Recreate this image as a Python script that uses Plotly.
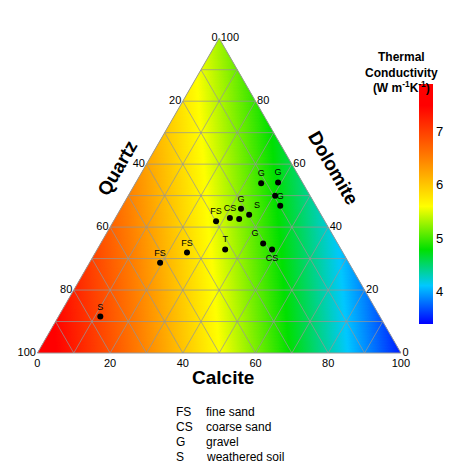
import numpy as np
import plotly.graph_objects as go

# sample compositions (fractions): dolomite, quartz, calcite
sample_labels = ["S", "FS", "FS", "T", "FS", "CS", "", "G", "S", "G", "CS", "G", "G", "", "G"]
dolomite = [0.116, 0.287, 0.319, 0.329, 0.419, 0.429, 0.426, 0.458, 0.439, 0.348, 0.329, 0.539, 0.542, 0.500, 0.468]
calcite = [0.115, 0.194, 0.252, 0.352, 0.282, 0.315, 0.342, 0.331, 0.363, 0.447, 0.481, 0.346, 0.391, 0.404, 0.434]
quartz = [1 - d - c for d, c in zip(dolomite, calcite)]
label_pos = ["top center", "top center", "top center", "top center", "top center", "top center",
             "top center", "top center", "top right", "top left", "bottom center", "top center",
             "top center", "top center", "top center"]

# end-member thermal conductivities (W m-1 K-1), linear mixing for background
k_quartz, k_dolomite, k_calcite = 7.7, 5.3, 3.5

colorscale = [[0.0, "#0000ff"], [0.16, "#00c8ff"], [0.31, "#00e000"], [0.49, "#ffff00"],
              [0.69, "#ff8000"], [0.91, "#ff0000"], [1.0, "#ff0000"]]

step = 0.005
ga, gb, gc = [], [], []
n = int(round(1 / step))
for i in range(n + 1):
    for j in range(n + 1 - i):
        ga.append(i * step)
        gb.append(j * step)
        gc.append(1 - i * step - j * step)
ga, gb, gc = np.array(ga), np.array(gb), np.array(gc)
kval = k_dolomite * ga + k_quartz * gb + k_calcite * gc

fig = go.Figure()
fig.add_trace(go.Scatterternary(
    a=ga, b=gb, c=gc, mode="markers", hoverinfo="skip",
    marker=dict(symbol="square", size=3.5, color=kval, colorscale=colorscale,
                cmin=3.4, cmax=7.9, line=dict(width=0),
                colorbar=dict(x=0.845, xanchor="left", y=0.30, yanchor="bottom", len=0.56,
                              lenmode="fraction", thickness=14, tickvals=[4, 5, 6, 7],
                              outlinewidth=0, ticks="",
                              tickfont=dict(family="Arial", size=13, color="black")))))

# grid lines every 10 %, drawn over the coloured background
grid = [v / 10 for v in range(1, 10)]
for v in grid:
    for key in ["a", "b", "c"]:
        others = [k for k in ["a", "b", "c"] if k != key]
        line = {key: [v, v], others[0]: [0, 1 - v], others[1]: [1 - v, 0]}
        fig.add_trace(go.Scatterternary(**line, mode="lines", hoverinfo="skip",
                                        line=dict(color="rgba(150,150,150,0.75)", width=1)))

fig.add_trace(go.Scatterternary(
    a=dolomite, b=quartz, c=calcite, mode="markers+text", text=sample_labels,
    textposition=label_pos, textfont=dict(family="Arial", size=9, color="black"),
    marker=dict(color="black", size=6)))

tick_vals = [v / 100 for v in range(0, 101, 20)]
axis_common = dict(tickvals=tick_vals, ticktext=[str(100 - round(t * 100)) for t in tick_vals],
                   showgrid=False, linecolor="#999", ticks="", layer="above traces",
                   tickfont=dict(family="Arial", size=11, color="black"), title=dict(text=""))
fig.update_layout(
    width=474, height=465, margin=dict(l=0, r=0, t=0, b=0), showlegend=False,
    paper_bgcolor="white", font=dict(family="Arial"),
    ternary=dict(sum=1, bgcolor="white",
                 domain=dict(x=[0.051, 0.84], y=[0.258, 0.935]),
                 aaxis=axis_common, baxis=axis_common, caxis=axis_common),
)

ann = [
    dict(x=82 / 474, y=1 - 160 / 465, text="<b>Quartz</b>", textangle=-60, font=dict(size=19)),
    dict(x=358 / 474, y=1 - 160 / 465, text="<b>Dolomite</b>", textangle=60, font=dict(size=19)),
    dict(x=215 / 474, y=1 - 382 / 465, text="<b>Calcite</b>", font=dict(size=19)),
    dict(x=432 / 474, y=1 - 40 / 465, text="<b>Thermal<br>Conductivity<br>(W m<sup>-1</sup>K<sup>-1</sup>)</b>",
         font=dict(size=12)),
]
legend_rows = [("FS", "fine sand"), ("CS", "coarse sand"), ("G", "gravel"), ("S", "weathered soil")]
for i, (code, desc) in enumerate(legend_rows):
    y = 1 - (413 + i * 15) / 465
    ann.append(dict(x=166 / 474, y=y, text=code, xanchor="left", font=dict(size=12)))
    ann.append(dict(x=196 / 474, y=y, text=desc, xanchor="left", font=dict(size=12)))
for a in ann:
    a.update(xref="paper", yref="paper", showarrow=False)
    a["font"].update(family="Arial", color="black")
fig.update_layout(annotations=ann)

fig.write_html("out.html")
